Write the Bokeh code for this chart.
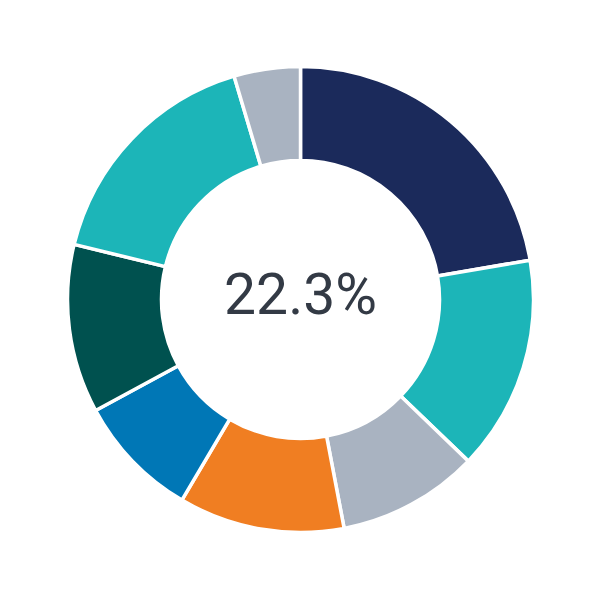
import math
from bokeh.plotting import figure
from bokeh.models import ColumnDataSource
from bokeh.core.properties import value
from bokeh.embed import file_html
from bokeh.resources import INLINE

segments = ["A", "B", "C", "D", "E", "F", "G", "H"]
shares = [22.3, 14.9, 9.8, 11.5, 8.6, 11.7, 16.6, 4.6]
colors = ["#1b2a5b", "#1cb5b8", "#a9b3c1", "#f07e22", "#0077b6", "#00514f", "#1cb5b8", "#a9b3c1"]
center_label = "22.3%"

total = sum(shares)
starts, ends = [], []
cum = 0.0
for s in shares:
    starts.append(math.pi / 2 - cum / total * 2 * math.pi)
    cum += s
    ends.append(math.pi / 2 - cum / total * 2 * math.pi)

src = ColumnDataSource(dict(seg=segments, share=shares, color=colors, start=starts, end=ends))

p = figure(width=584, height=584, x_range=(-300, 284), y_range=(-285, 299),
           output_backend="svg", toolbar_location=None, min_border=0)
p.axis.visible = False
p.grid.visible = False
p.outline_line_color = None
p.background_fill_color = "white"
p.border_fill_color = "white"

p.annular_wedge(x=0, y=0, inner_radius=139, outer_radius=233,
                start_angle="start", end_angle="end", direction="clock",
                fill_color="color", line_color="white", line_width=3.5, source=src)

p.text(x=[0], y=[5], text=[center_label], text_align="center", text_baseline="middle",
       text_font=value("Roboto"), text_font_size="57px", text_color="#333a45")

open("out.html", "w").write(file_html(p, INLINE))
